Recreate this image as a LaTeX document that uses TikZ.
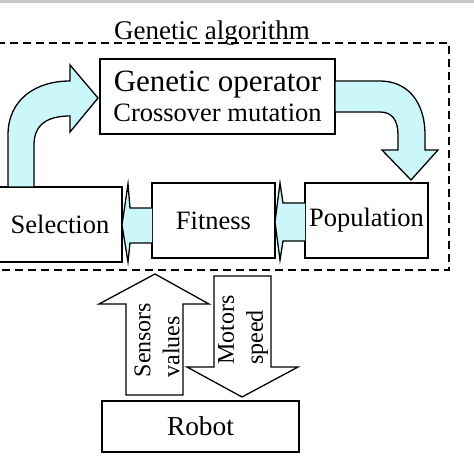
\documentclass[tikz,border=0pt]{standalone}
\usepackage{fontspec}
\setmainfont{Liberation Serif}
\usetikzlibrary{positioning}

\definecolor{flowcyan}{RGB}{204,247,250}

\begin{document}
\begin{tikzpicture}[
  x=1pt, y=-1pt,
  box/.style={
    draw=black,
    line width=1.5pt,
    minimum height=75pt,
    inner sep=0pt,
    align=center,
    font=\fontsize{26.5}{30}\selectfont
  },
  flow/.style={
    draw=black,
    fill=flowcyan,
    line width=1.3pt,
    line join=miter
  },
  whiteflow/.style={
    draw=black,
    fill=white,
    line width=1.3pt,
    line join=miter
  },
  flowlabel/.style={
    rotate=90,
    align=left,
    inner sep=0pt,
    font=\fontsize{24}{29}\selectfont
  }
]

\useasboundingbox (0,0) rectangle (474,474);
\fill[gray!45] (0,0) rectangle (474,2.5);

% dashed frame of the algorithm
\draw[dashed, line width=1.2pt, dash pattern=on 8pt off 5pt] (-5,43) rectangle (449,270);
\node[font=\fontsize{27}{30}\selectfont, anchor=base] (title) at (212,39) {Genetic algorithm};

% blocks
\node[box, minimum width=235pt] (oper) at (217.5,96.5)
  {\fontsize{31}{27}\selectfont Genetic operator\\\fontsize{26.5}{27}\selectfont Crossover mutation};
\node[box, minimum width=124pt] (sel) at (60,224.5)  {Selection};
\node[box, minimum width=123pt] (fit) at (213.5,220.5) {Fitness};
\node[box, minimum width=123pt] (pop) at (366.5,220.5) {\raisebox{4pt}{Population}};
\node[box, minimum width=197pt, minimum height=51pt, font=\fontsize{27.4}{30}\selectfont] (robot) at (200.5,426.5) {Robot};

% curved flows
\draw[flow] (8,187) -- (8,135) .. controls (8,100) and (35,81) .. (70,81)
  -- (70,65) -- (98,98) -- (70,132) -- (70,116)
  .. controls (48,116) and (34,124) .. (34,145) -- (34,187) -- cycle;
\draw[flow] (335,81) -- (380,81) .. controls (406,81) and (425,100) .. (425,135)
  -- (425,150) -- (438,150) -- (411,180) -- (382,150) -- (398,150) -- (398,135)
  .. controls (398,120) and (392,112) .. (380,112) -- (335,112) -- cycle;

% straight flows
\draw[flow] (305,203) -- (283,203) -- (280,183) -- (275,222) -- (280,260) -- (283,241) -- (305,241);
\draw[flow] (152,208) -- (130,208) -- (128,184) -- (122,225) -- (128,262) -- (130,243) -- (152,243);

% robot link
\draw[whiteflow] (126,395) -- (126,304) -- (99,304) -- (155,274) -- (209,304) -- (183,304) -- (183,395) -- cycle;
\draw[whiteflow] (214,276) -- (271,276) -- (271,367) -- (298,367) -- (242,397) -- (187,367) -- (214,367) -- cycle;
\node[flowlabel] (sens) at (157,340) {Sensors\\values};
\node[flowlabel] (mot)  at (243,330) {Motors\\speed};

\end{tikzpicture}
\end{document}
